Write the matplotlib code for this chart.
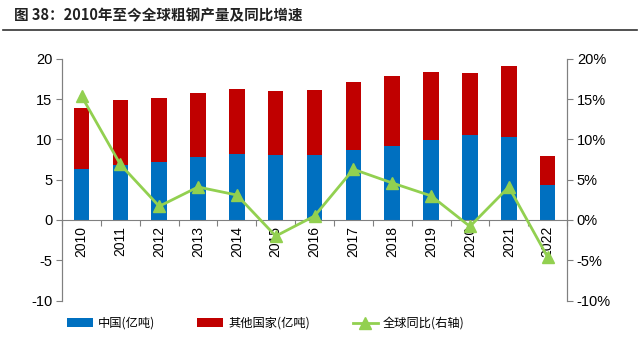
import numpy as np
import matplotlib.pyplot as plt
from matplotlib.ticker import FuncFormatter

plt.rcParams['font.family'] = ['Liberation Sans', 'Noto Sans CJK SC', 'DejaVu Sans']
plt.rcParams['axes.unicode_minus'] = False

# data
years = ['2010', '2011', '2012', '2013', '2014', '2015', '2016',
         '2017', '2018', '2019', '2020', '2021', '2022']
china = [6.3, 6.85, 7.17, 7.79, 8.16, 8.04, 8.07, 8.7, 9.23, 9.97, 10.56, 10.3, 4.4]
total = [13.95, 14.87, 15.2, 15.8, 16.3, 15.98, 16.1, 17.1, 17.9, 18.4, 18.3, 19.1, 7.9]
others = [t - c for t, c in zip(total, china)]
yoy = [15.4, 6.9, 1.7, 4.1, 3.1, -2.0, 0.5, 6.3, 4.6, 3.0, -0.8, 4.1, -4.6]

blue = '#0070C0'
red = '#C00000'
green = '#92D050'
grey = '#808080'

fig = plt.figure(figsize=(6.4, 3.46), dpi=100)
ax = fig.add_axes([0.097, 0.1315, 0.789, 0.698])
ax2 = ax.twinx()

x = np.arange(len(years))
ax.bar(x, china, width=0.4, color=blue, label='中国(亿吨)', zorder=2)
ax.bar(x, others, width=0.4, bottom=china, color=red, label='其他国家(亿吨)', zorder=2)
ax2.plot(x, yoy, color=green, lw=2, marker='^', ms=8, label='全球同比(右轴)')

ax.set_xlim(-0.5, len(years) - 0.5)
ax.set_ylim(-10, 20)
ax2.set_ylim(-10, 20)
ax.set_yticks(np.arange(-10, 21, 5))
ax2.set_yticks(np.arange(-10, 21, 5))
ax2.yaxis.set_major_formatter(FuncFormatter(lambda v, p: '%d%%' % v))

# category axis crossing at zero
for a in (ax, ax2):
    a.spines['top'].set_visible(False)
    a.spines['bottom'].set_position(('data', 0))
    a.spines['bottom'].set_color(grey)
    a.spines['left'].set_color(grey)
    a.spines['right'].set_color(grey)
ax2.spines['bottom'].set_visible(False)

ax.set_xticks(np.arange(-0.5, len(years), 1))
ax.set_xticklabels([])
ax.tick_params(axis='x', length=4, color=grey)
for xi, yr in zip(x, years):
    ax.text(xi, -0.7, yr, rotation=90, ha='center', va='top', fontsize=10)

ax.tick_params(axis='y', length=4, color=grey, labelsize=10.5, pad=3)
ax2.tick_params(axis='y', length=4, color=grey, labelsize=10.5, pad=3)

h1, l1 = ax.get_legend_handles_labels()
h2, l2 = ax2.get_legend_handles_labels()
fig.legend(h1 + h2, l1 + l2, loc='center left', bbox_to_anchor=(0.095, 0.065), ncol=3,
           frameon=False, prop={'family': ['Noto Sans CJK SC'], 'size': 8.8},
           handlelength=2.1, columnspacing=3.5, handletextpad=0.4, borderpad=0)

fig.text(0.022, 0.955, '图 38：2010年至今全球粗钢产量及同比增速', fontsize=10.5,
         fontweight='bold', family=['Noto Sans CJK SC'], va='center', color='#222222')
fig.add_artist(plt.Line2D([0.005, 0.995], [0.913, 0.913], color='#333333', lw=1.2))

fig.savefig('out.png', dpi=100)
